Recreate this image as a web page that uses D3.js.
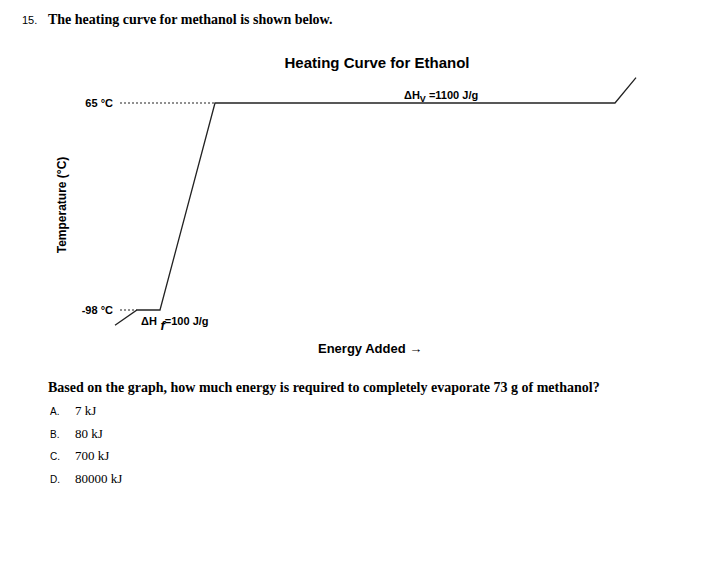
<!DOCTYPE html>
<html><head><meta charset="utf-8">
<script src="https://cdn.jsdelivr.net/npm/d3@7"></script>
<style>
body{margin:0;background:#fff;}
svg text{font-family:"Liberation Sans",Arial,sans-serif;}
.serif{font-family:"Liberation Serif","Times New Roman",serif !important;}
</style></head>
<body><svg id="c" width="707" height="562"></svg>
<script>
// heating curve, energy (arbitrary units) vs temperature
var energy = [0, 22, 45, 100, 500, 521];
var temperature = [-110, -98, -98, 65, 65, 85];
var tickTemps = [65, -98];
var tickLabels = ["65 °C", "-98 °C"];
var choices = ["7 kJ", "80 kJ", "700 kJ", "80000 kJ"];
var letters = ["A.", "B.", "C.", "D."];

var svg = d3.select("#c");
var x = d3.scaleLinear().domain([0, 521]).range([115, 636]);
var y = d3.scaleLinear().domain([-98, 65]).range([310, 103]);

svg.append("text").attr("x", 22).attr("y", 24).attr("font-size", 11).text("15.");
svg.append("text").attr("class", "serif").attr("x", 48).attr("y", 24).attr("font-size", 14).attr("font-weight", "bold")
    .text("The heating curve for methanol is shown below.");

svg.append("text").attr("x", 377).attr("y", 68).attr("text-anchor", "middle").attr("font-size", 15).attr("font-weight", "bold")
    .text("Heating Curve for Ethanol");

var pts = energy.map(function(e, i) { return [x(e), y(temperature[i])]; });
svg.append("path").attr("d", d3.line()(pts)).attr("fill", "none").attr("stroke", "#222").attr("stroke-width", 1.3);

// dotted guides to the plateaus
tickTemps.forEach(function(t, i) {
    var xe = t > 0 ? x(energy[3]) : x(energy[1]);
    svg.append("line").attr("x1", 120).attr("x2", xe).attr("y1", y(t)).attr("y2", y(t))
        .attr("stroke", "#222").attr("stroke-width", 1.2).attr("stroke-dasharray", "2,2");
    svg.append("text").attr("x", 113).attr("y", y(t) + 4).attr("text-anchor", "end")
        .attr("font-size", 11).attr("font-weight", "bold").text(tickLabels[i]);
});

var hv = svg.append("text").attr("x", 404).attr("y", 99).attr("font-size", 11).attr("font-weight", "bold");
hv.append("tspan").text("ΔH");
hv.append("tspan").attr("font-size", 9).attr("dy", 3).text("V");
hv.append("tspan").attr("dy", -3).text(" =1100 J/g");

var hf = svg.append("text").attr("x", 141).attr("y", 325).attr("font-size", 11).attr("font-weight", "bold");
hf.append("tspan").text("ΔH");
hf.append("tspan").attr("font-size", 13).attr("font-style", "italic").attr("dy", 5).text(" f");
hf.append("tspan").attr("dy", -5).text("=100 J/g");

svg.append("text").attr("transform", "translate(66,205) rotate(-90)").attr("text-anchor", "middle")
    .attr("font-size", 12).attr("font-weight", "bold").text("Temperature (°C)");
svg.append("text").attr("x", 318).attr("y", 353).attr("font-size", 13).attr("font-weight", "bold").text("Energy Added →");

svg.append("text").attr("class", "serif").attr("x", 48).attr("y", 392).attr("font-size", 14).attr("font-weight", "bold")
    .text("Based on the graph, how much energy is required to completely evaporate 73 g of methanol?");

choices.forEach(function(c, i) {
    var yy = 415 + i * 22.5;
    svg.append("text").attr("x", 50).attr("y", yy).attr("font-size", 10).text(letters[i]);
    svg.append("text").attr("class", "serif").attr("x", 75).attr("y", yy).attr("font-size", 13).text(c);
});
</script></body></html>
